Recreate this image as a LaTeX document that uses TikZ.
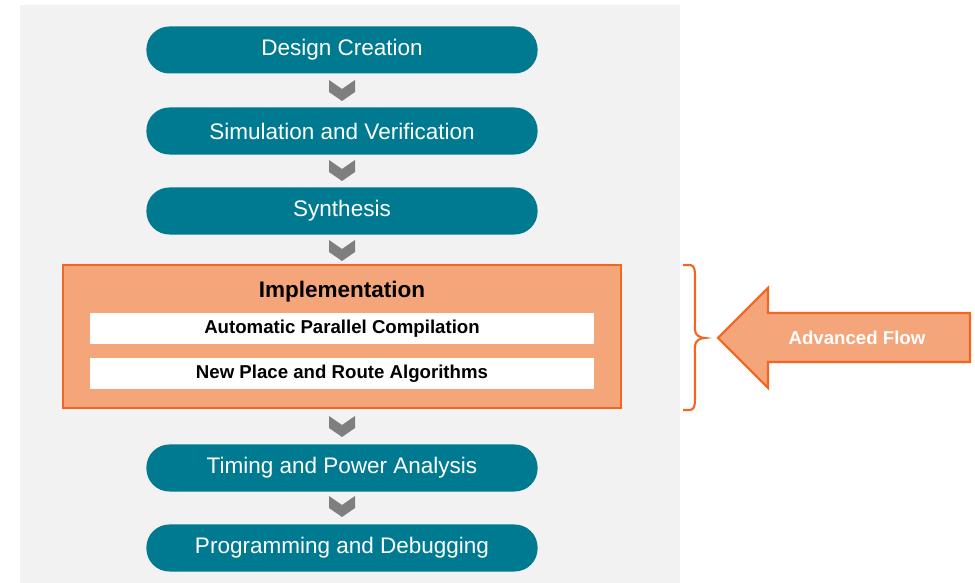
\documentclass[tikz,border=0pt]{standalone}
\usepackage{fontspec}
\setmainfont{Liberation Sans}
\begin{document}
\begin{tikzpicture}[x=0.01cm,y=-0.01cm,
 pill/.style={fill=teal0,rounded corners=0.23cm,minimum width=3.91cm,minimum height=0.47cm,text=white,font=\fontsize{6.4}{7}\selectfont,inner sep=0},
 wbox/.style={fill=white,minimum width=5.04cm,minimum height=0.31cm,inner sep=0,font=\fontsize{5.3}{6}\selectfont\bfseries},
 chev/.style={fill=chevgray,draw=none}]
\definecolor{teal0}{HTML}{007A91}
\definecolor{chevgray}{HTML}{7F7F7F}
\definecolor{bgray}{HTML}{F2F2F2}
\definecolor{orfill}{HTML}{F5A57A}
\definecolor{ordraw}{HTML}{F26522}
\useasboundingbox (0,0) rectangle (975,583);
\fill[bgray] (20,5) rectangle (680,583);
\node[pill] (p1) at (342,50) {Design Creation};
\node[pill] (p2) at (342,131) {Simulation and Verification};
\node[pill] (p3) at (342,211) {Synthesis};
\node[pill] (p4) at (342,468) {Timing and Power Analysis};
\node[pill] (p5) at (342,548) {Programming and Debugging};
\node[draw=ordraw,line width=0.6pt,fill=orfill,minimum width=5.58cm,minimum height=1.43cm,inner sep=0] (impl) at (342,336.5) {};
\node[font=\fontsize{6.4}{7}\selectfont\bfseries] (it) at (342,292) {Implementation};
\node[wbox] (w1) at (342,328.5) {Automatic Parallel Compilation};
\node[wbox] (w2) at (342,374) {New Place and Route Algorithms};
\foreach \y in {80,160,240,416,496}{
 \fill[chev] (329,\y) -- (342,\y+9) -- (355,\y) -- (355,\y+12) -- (342,\y+21) -- (329,\y+12) -- cycle;}
\coordinate (bt) at (683,265);
\coordinate (bb) at (683,410);
\draw[ordraw,line width=0.6pt] (bt) -- (690,265) to[out=0,in=90] (695,275) -- (695,330) to[out=270,in=180] (705,338) to[out=180,in=90] (695,346) -- (695,400) to[out=270,in=0] (690,410) -- (bb);
\fill[orfill,draw=ordraw,line width=0.6pt] (718,338) -- (768,288) -- (768,313) -- (970,313) -- (970,362) -- (768,362) -- (768,388) -- cycle;
\node[text=white,font=\fontsize{5.3}{6}\selectfont\bfseries] (af) at (857,338) {Advanced Flow};
\end{tikzpicture}
\end{document}
